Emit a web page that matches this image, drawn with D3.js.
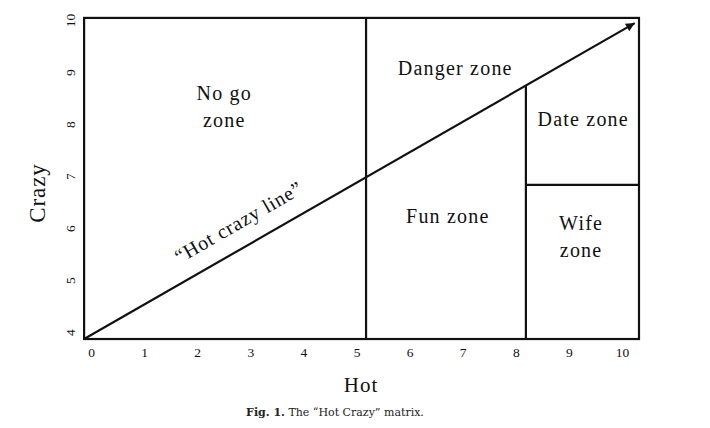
<!DOCTYPE html>
<html>
<head>
<meta charset="utf-8">
<script src="https://cdn.jsdelivr.net/npm/d3@7"></script>
<style>
  body { margin: 0; background: #fff; }
</style>
</head>
<body>
<svg id="chart" width="710" height="428"></svg>
<script>
  // tick labels
  const hotTicks = [0, 1, 2, 3, 4, 5, 6, 7, 8, 9, 10];
  const crazyTicks = [4, 5, 6, 7, 8, 9, 10];

  // frame of the matrix (hot / crazy units)
  const hotRange = [-0.13, 10.32];
  const crazyRange = [3.865, 10.04];

  // the "hot crazy line", start and arrow tip
  const hclHot = [-0.13, 10.24];
  const hclCrazy = [3.865, 9.94];

  // dividers
  const funSplit = 5.18;     // hot value of the first vertical split
  const dateSplit = 8.19;    // hot value of the second vertical split
  const wifeSplit = 6.83;    // crazy value splitting date / wife zones

  // zone labels, each line anchored at a hot/crazy point
  const zoneNames = ["No go", "zone", "Danger zone", "Date zone", "Fun zone", "Wife", "zone"];
  const zoneHot = [2.51, 2.51, 6.86, 9.27, 6.72, 9.23, 9.23];
  const zoneCrazy = [8.46, 7.94, 8.94, 7.96, 6.10, 5.96, 5.44];

  const serif = "'Liberation Serif', 'Times New Roman', Times, serif";
  const ink = '#111';

  const svg = d3.select('#chart');

  const xScale = d3.scaleLinear().domain([0, 10]).range([91, 622]);
  const yScale = d3.scaleLinear().domain([4, 10]).range([332, 20]);

  const x0 = xScale(hotRange[0]), x1 = xScale(hotRange[1]);
  const y0 = yScale(crazyRange[0]), y1 = yScale(crazyRange[1]);

  svg.append('defs').append('marker')
      .attr('id', 'arrow')
      .attr('viewBox', '0 0 10 10')
      .attr('refX', 10)
      .attr('refY', 5)
      .attr('markerWidth', 5)
      .attr('markerHeight', 4)
      .attr('markerUnits', 'strokeWidth')
      .attr('orient', 'auto')
    .append('path')
      .attr('d', 'M0,0 L10,5 L0,10 z')
      .attr('fill', ink);

  // axes
  const xAxis = d3.axisBottom(xScale)
    .tickValues(hotTicks)
    .tickFormat(d3.format('d'))
    .tickSize(0)
    .tickPadding(8);

  const xAxisG = svg.append('g')
    .attr('transform', `translate(0,${y0})`)
    .call(xAxis);
  xAxisG.select('.domain').remove();
  xAxisG.selectAll('text')
    .attr('fill', ink)
    .style('font-family', serif)
    .style('font-size', '13.5px');

  const yAxis = d3.axisLeft(yScale)
    .tickValues(crazyTicks)
    .tickFormat(d3.format('d'))
    .tickSize(0);

  const yAxisG = svg.append('g')
    .attr('transform', `translate(${x0},0)`)
    .call(yAxis);
  yAxisG.select('.domain').remove();
  yAxisG.selectAll('text')
    .attr('fill', ink)
    .attr('x', 0)
    .attr('dy', 0)
    .attr('text-anchor', 'middle')
    .attr('transform', 'translate(-9.5,0) rotate(-90)')
    .style('font-family', serif)
    .style('font-size', '13.5px');

  // axis titles
  svg.append('text')
    .attr('x', 361)
    .attr('y', 392)
    .attr('text-anchor', 'middle')
    .attr('fill', ink)
    .style('font-family', serif)
    .style('font-size', '21px')
    .style('letter-spacing', '0.05em')
    .text('Hot');

  svg.append('text')
    .attr('transform', 'translate(45,193) rotate(-90)')
    .attr('text-anchor', 'middle')
    .attr('fill', ink)
    .style('font-family', serif)
    .style('font-size', '23px')
    .style('letter-spacing', '0.04em')
    .text('Crazy');

  // frame and dividers
  const lineStyle = sel => sel.attr('stroke', ink).attr('stroke-width', 2.2).attr('fill', 'none');

  svg.append('rect')
    .attr('x', x0)
    .attr('y', y1)
    .attr('width', x1 - x0)
    .attr('height', y0 - y1)
    .call(lineStyle);

  svg.append('line')
    .attr('x1', xScale(funSplit)).attr('x2', xScale(funSplit))
    .attr('y1', y0).attr('y2', y1)
    .call(lineStyle);

  // the second split stops where it meets the hot crazy line
  const hclAt = d3.scaleLinear().domain(hclHot).range(hclCrazy);
  svg.append('line')
    .attr('x1', xScale(dateSplit)).attr('x2', xScale(dateSplit))
    .attr('y1', y0).attr('y2', yScale(hclAt(dateSplit)))
    .call(lineStyle);

  svg.append('line')
    .attr('x1', xScale(dateSplit)).attr('x2', x1)
    .attr('y1', yScale(wifeSplit)).attr('y2', yScale(wifeSplit))
    .call(lineStyle);

  // hot crazy line
  const hclPoints = hclHot.map((h, i) => [h, hclCrazy[i]]);
  const lineGenerator = d3.line()
    .x(d => xScale(d[0]))
    .y(d => yScale(d[1]));

  svg.append('path')
    .attr('d', lineGenerator(hclPoints))
    .call(lineStyle)
    .attr('marker-end', 'url(#arrow)');

  const angle = Math.atan2(
    yScale(hclCrazy[1]) - yScale(hclCrazy[0]),
    xScale(hclHot[1]) - xScale(hclHot[0])) * 180 / Math.PI;

  svg.append('text')
    .attr('transform', `translate(242,228) rotate(${angle})`)
    .attr('text-anchor', 'middle')
    .attr('fill', ink)
    .style('font-family', serif)
    .style('font-size', '20px')
    .style('letter-spacing', '0.04em')
    .text('\u201CHot crazy line\u201D');

  // zone labels
  svg.selectAll('.zone-label')
    .data(zoneNames)
    .enter().append('text')
      .attr('class', 'zone-label')
      .attr('x', (d, i) => xScale(zoneHot[i]))
      .attr('y', (d, i) => yScale(zoneCrazy[i]))
      .attr('text-anchor', 'middle')
      .attr('fill', ink)
      .style('font-family', serif)
      .style('font-size', '20px')
      .style('letter-spacing', '0.06em')
      .text(d => d);

  // caption
  const cap = svg.append('text')
    .attr('x', 335)
    .attr('y', 416)
    .attr('text-anchor', 'middle')
    .attr('fill', '#222')
    .style('font-family', "'DejaVu Serif', serif")
    .style('font-size', '11px');
  cap.append('tspan').style('font-weight', 'bold').text('Fig. 1.');
  cap.append('tspan').text(' The \u201CHot Crazy\u201D matrix.');
</script>
</body>
</html>
